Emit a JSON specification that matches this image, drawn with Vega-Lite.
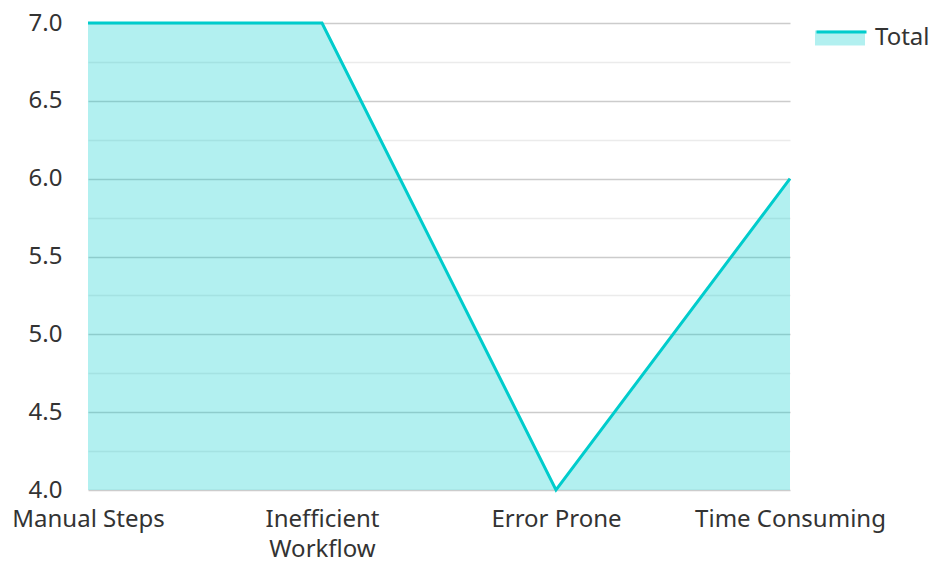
{
  "$schema": "https://vega.github.io/schema/vega-lite/v6.json",
  "width": 702,
  "height": 467,
  "autosize": {"type": "none"},
  "padding": {"left": 88, "top": 23, "right": 141, "bottom": 72},
  "config": {
    "view": {"stroke": null},
    "font": "Noto Sans"
  },
  "data": {
    "values": [
      {"category": "Manual Steps", "value": 7, "series": "Total"},
      {"category": "Inefficient Workflow", "value": 7, "series": "Total"},
      {"category": "Error Prone", "value": 4, "series": "Total"},
      {"category": "Time Consuming", "value": 6, "series": "Total"}
    ]
  },
  "encoding": {
    "x": {
      "field": "category",
      "type": "nominal",
      "sort": null,
      "scale": {"type": "point", "padding": 0},
      "axis": {
        "title": null,
        "labelAngle": 0,
        "labelFontSize": 24,
        "labelColor": "#333333",
        "labelFont": "Noto Sans",
        "labelPadding": 17,
        "labelLimit": 0,
        "labelOverlap": false,
        "ticks": false,
        "domain": false,
        "grid": false,
        "labelLineHeight": 30,
        "labelExpr": "length(datum.label) > 15 ? split(datum.label, ' ') : datum.label"
      }
    },
    "y": {
      "field": "value",
      "type": "quantitative",
      "scale": {"domain": [4, 7], "nice": false, "zero": false, "clamp": true},
      "axis": {
        "title": null,
        "values": [4, 4.25, 4.5, 4.75, 5, 5.25, 5.5, 5.75, 6, 6.25, 6.5, 6.75, 7],
        "labelExpr": "datum.value % 0.5 == 0 ? format(datum.value, '.1f') : ''",
        "labelFontSize": 24,
        "labelColor": "#333333",
        "labelFont": "Noto Sans",
        "labelPadding": 26,
        "ticks": false,
        "domain": false,
        "grid": true,
        "gridColor": {"condition": {"test": "datum.value % 0.5 == 0", "value": "#cccccc"}, "value": "#ebebeb"},
        "gridWidth": 1.5
      }
    }
  },
  "layer": [
    {
      "mark": {"type": "area", "opacity": 0.3},
      "encoding": {
        "fill": {
          "field": "series",
          "type": "nominal",
          "scale": {"range": ["#00cccc"]},
          "legend": {
            "title": null,
            "orient": "none",
            "legendX": 727,
            "legendY": -10,
            "padding": 0,
            "labelFontSize": 24,
            "labelColor": "#333333",
            "labelFont": "Noto Sans",
            "labelLimit": 0,
            "symbolType": "M-1,-0.3 H1 V0.3 H-1 Z",
            "symbolSize": 2500,
            "symbolOpacity": 0.3,
            "symbolStrokeWidth": 0,
            "labelOffset": 10
          }
        }
      }
    },
    {
      "mark": {"type": "line", "strokeWidth": 3, "color": "#00cccc"},
      "encoding": {
        "stroke": {
          "field": "series",
          "type": "nominal",
          "scale": {"range": ["#00cccc"]},
          "legend": {
            "title": null,
            "orient": "none",
            "legendX": 727,
            "legendY": -10,
            "padding": 0,
            "labelFontSize": 24,
            "labelFont": "Noto Sans",
            "labelExpr": "''",
            "symbolType": "M-1,-0.3 H1",
            "symbolSize": 2500,
            "symbolStrokeWidth": 3,
            "labelOffset": 10
          }
        }
      }
    }
  ]
}
